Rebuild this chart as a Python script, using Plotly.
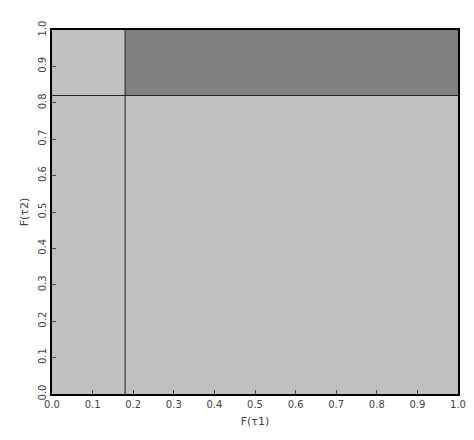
import plotly.graph_objects as go

x_split = 0.18
y_split = 0.82
ticks = [0.0, 0.1, 0.2, 0.3, 0.4, 0.5, 0.6, 0.7, 0.8, 0.9, 1.0]
tick_labels = ["0.0", "0.1", "0.2", "0.3", "0.4", "0.5", "0.6", "0.7", "0.8", "0.9", "1.0"]

fig = go.Figure()
fig.add_trace(go.Scatter(x=[0, 1], y=[0, 1], mode="markers", marker=dict(opacity=0), hoverinfo="skip", showlegend=False))
fig.add_shape(type="rect", x0=0, x1=1, y0=0, y1=1, fillcolor="#c0c0c0", line_width=0, layer="below")
fig.add_shape(type="rect", x0=x_split, x1=1, y0=y_split, y1=1, fillcolor="#808080", line_width=0, layer="below")
fig.add_shape(type="line", x0=x_split, x1=x_split, y0=0, y1=1, line=dict(color="#222", width=1))
fig.add_shape(type="line", x0=0, x1=1, y0=y_split, y1=y_split, line=dict(color="#222", width=1))

axis_common = dict(range=[0, 1], tickvals=ticks, ticktext=tick_labels, ticks="inside", ticklen=4,
                   showgrid=False, zeroline=False, showline=True, linecolor="black", linewidth=2, mirror=True,
                   automargin=False,
                   tickfont=dict(family="DejaVu Sans", size=10, color="#444"))
fig.update_xaxes(**axis_common, title=dict(text="F(τ1)", font=dict(family="DejaVu Sans", size=11, color="#444"), standoff=8))
fig.update_yaxes(**axis_common, tickangle=-90, title=dict(text="F(τ2)", font=dict(family="DejaVu Sans", size=11, color="#444"), standoff=6))
fig.update_layout(width=474, height=440, margin=dict(l=44, r=24, t=22, b=54, autoexpand=False),
                  plot_bgcolor="white", paper_bgcolor="white")
fig.write_html("out.html")
